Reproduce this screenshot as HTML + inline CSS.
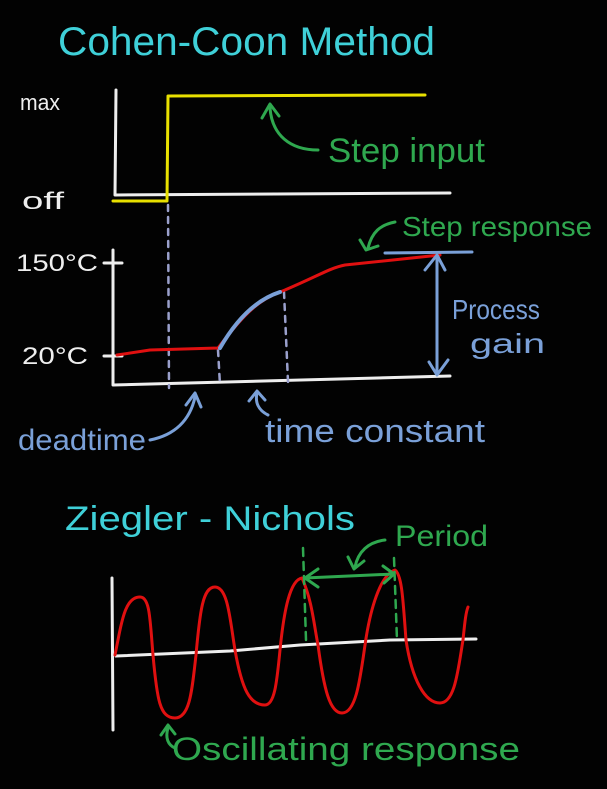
<!DOCTYPE html>
<html><head><style>
html,body{margin:0;padding:0;background:#000;}
svg{display:block}
text{font-family:"Liberation Sans",sans-serif;}
</style></head><body>
<svg width="607" height="789" viewBox="0 0 607 789" xmlns="http://www.w3.org/2000/svg">
<rect width="607" height="789" fill="#020202"/>
<g fill="none" stroke-linecap="round" stroke-linejoin="round">
<path d="M116 90 L115 195 L450 193" stroke="#eee" stroke-width="3"/>
<path d="M113 201 L167 201 L168 96 L425 95" stroke="#e8e000" stroke-width="3"/>
<path d="M318 150 C290 150 272 135 270 108" stroke="#2fa84f" stroke-width="3"/>
<path d="M262 118 L270 104 L279 116" stroke="#2fa84f" stroke-width="3"/>
<path d="M113 250 L113 385 L450 376" stroke="#eee" stroke-width="3"/>
<path d="M104 263 L122 263 M104 356 L122 356" stroke="#eee" stroke-width="3"/>
<path d="M168 205 L169 388" stroke="#9aa0cc" stroke-width="2.5" stroke-dasharray="6 6"/>
<path d="M218 350 L220 385" stroke="#9aa0cc" stroke-width="2.5" stroke-dasharray="6 6"/>
<path d="M284 292 L288 382" stroke="#9aa0cc" stroke-width="2.5" stroke-dasharray="6 6"/>
<path d="M117 355 L150 350 L218 348 C240 320 255 300 285 290 C320 275 330 268 345 265 L440 255" stroke="#e01010" stroke-width="3"/>
<path d="M220 348 C235 322 255 300 280 292" stroke="#7aa0d8" stroke-width="4"/>
<path d="M385 253 L472 252" stroke="#7aa0d8" stroke-width="3"/>
<path d="M437 257 L437 372" stroke="#7aa0d8" stroke-width="3"/>
<path d="M425 270 L437 255 L445 270 M429 362 L437 375 L448 360" stroke="#7aa0d8" stroke-width="3"/>
<path d="M395 222 C380 225 372 232 368 248" stroke="#2fa84f" stroke-width="3"/>
<path d="M360 240 L366 250 L378 246" stroke="#2fa84f" stroke-width="3"/>
<path d="M150 440 C175 435 190 420 195 397" stroke="#7aa0d8" stroke-width="3"/>
<path d="M186 405 L195 393 L201 407" stroke="#7aa0d8" stroke-width="3"/>
<path d="M268 415 C258 410 255 402 257 393" stroke="#7aa0d8" stroke-width="3"/>
<path d="M249 401 L257 391 L265 400" stroke="#7aa0d8" stroke-width="3"/>
<path d="M112 578 L113 730" stroke="#eee" stroke-width="3"/>
<path d="M116 656 L230 651 L300 645 L390 640 L476 639" stroke="#eee" stroke-width="3"/>
<path d="M115 655 C122 620 125 597 140 597 C150 597 150 620 153 655 C157 700 160 718 175 718 C190 718 192 690 196 655 C200 610 203 587 215 587 C228 587 230 620 235 650 C242 690 250 705 265 705 C275 705 277 680 280 650 C284 610 290 580 302 578 C312 600 314 625 318 645 C324 690 330 713 342 713 C356 713 360 680 365 645 C370 610 380 575 395 570 C402 575 403 600 406 640 C412 680 425 703 440 703 C455 703 458 670 463 640 C465 620 466 612 468 607" stroke="#e01010" stroke-width="3"/>
<path d="M303 548 L306 640" stroke="#2fa84f" stroke-width="2.5" stroke-dasharray="8 6"/>
<path d="M394 558 L397 640" stroke="#2fa84f" stroke-width="2.5" stroke-dasharray="8 6"/>
<path d="M305 578 L394 574" stroke="#2fa84f" stroke-width="3"/>
<path d="M318 569 L305 578 L318 587 M383 566 L394 574 L384 583" stroke="#2fa84f" stroke-width="3"/>
<path d="M385 540 C368 542 358 552 355 567" stroke="#2fa84f" stroke-width="3"/>
<path d="M348 557 L354 569 L364 561" stroke="#2fa84f" stroke-width="3"/>
<path d="M175 748 C168 745 165 738 168 728" stroke="#2fa84f" stroke-width="3"/>
<path d="M161 735 L168 725 L175 734" stroke="#2fa84f" stroke-width="3"/>
</g>
<g>
<text x="58" y="55" font-size="40" fill="#3fd0d8" textLength="377" lengthAdjust="spacingAndGlyphs">Cohen-Coon Method</text>
<text x="20" y="110" font-size="22" fill="#eee" textLength="40" lengthAdjust="spacingAndGlyphs">max</text>
<text x="22" y="209" font-size="24" fill="#eee" textLength="42" lengthAdjust="spacingAndGlyphs">off</text>
<text x="328" y="162" font-size="34" fill="#2fa84f" textLength="157" lengthAdjust="spacingAndGlyphs">Step input</text>
<text x="16" y="271" font-size="24" fill="#eee" textLength="82" lengthAdjust="spacingAndGlyphs">150°C</text>
<text x="22" y="364" font-size="24" fill="#eee" textLength="66" lengthAdjust="spacingAndGlyphs">20°C</text>
<text x="402" y="236" font-size="28" fill="#2fa84f" textLength="190" lengthAdjust="spacingAndGlyphs">Step response</text>
<text x="452" y="319" font-size="28" fill="#7aa0d8" textLength="88" lengthAdjust="spacingAndGlyphs">Process</text>
<text x="470" y="353" font-size="28" fill="#7aa0d8" textLength="75" lengthAdjust="spacingAndGlyphs">gain</text>
<text x="18" y="450" font-size="30" fill="#7aa0d8" textLength="128" lengthAdjust="spacingAndGlyphs">deadtime</text>
<text x="265" y="442" font-size="32" fill="#7aa0d8" textLength="220" lengthAdjust="spacingAndGlyphs">time constant</text>
<text x="65" y="530" font-size="34" fill="#3fd0d8" textLength="290" lengthAdjust="spacingAndGlyphs">Ziegler - Nichols</text>
<text x="395" y="546" font-size="30" fill="#2fa84f" textLength="93" lengthAdjust="spacingAndGlyphs">Period</text>
<text x="172" y="760" font-size="32" fill="#2fa84f" textLength="348" lengthAdjust="spacingAndGlyphs">Oscillating response</text>
</g>
</svg>
</body></html>
